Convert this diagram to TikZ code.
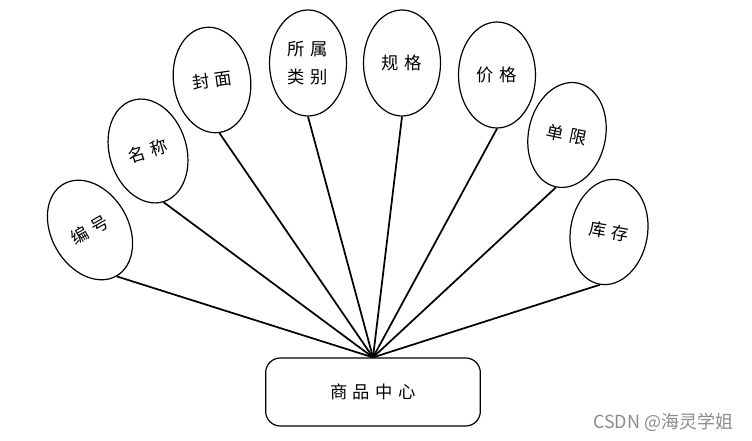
\documentclass[tikz,border=0pt]{standalone}
\usepackage{fontspec}
\setmainfont{Noto Sans CJK SC}[LetterSpace=32]
\newfontfamily\markfont{Noto Sans CJK SC}
\usetikzlibrary{shapes.geometric, positioning}

\begin{document}
\begin{tikzpicture}[x=0.75pt, y=-0.75pt,
  every node/.style={font=\fontsize{13}{21}\selectfont},
  attr/.style={draw, ellipse, line width=0.9pt, minimum width=57.75pt,
    minimum height=79.5pt, inner sep=0pt, align=center},
  center/.style={draw, rounded corners=11pt, line width=0.9pt,
    minimum width=161pt, minimum height=51pt},
  link/.style={line width=1.3pt}]
\useasboundingbox[fill=white] (0,0) rectangle (752,441);

\node (goods) [center] at (373,392) {商品中心};

\node (num) [attr, rotate=30] at (90,230) {编号};
\node (name) [attr, rotate=17] at (148,151) {名称};
\node (cover) [attr, rotate=8] at (212,80) {封面};
\node (cat) [attr] at (308,63) {所属\\类别};
\node (spec) [attr] at (402,63) {规格};
\node (price) [attr] at (497,75) {价格};
\node (unit) [attr, rotate=-12] at (567,135) {单限};
\node (stock) [attr, rotate=-10] at (609,232) {库存};

\foreach \a in {num, name, cover, cat, spec, price, unit, stock}
  \path[link] (goods.north) edge (\a.south);

\node (mark) [font=\markfont\fontsize{13.5}{15}\selectfont, text=black!45,
  anchor=east] at (738,422) {CSDN @海灵学姐};
\end{tikzpicture}
\end{document}
